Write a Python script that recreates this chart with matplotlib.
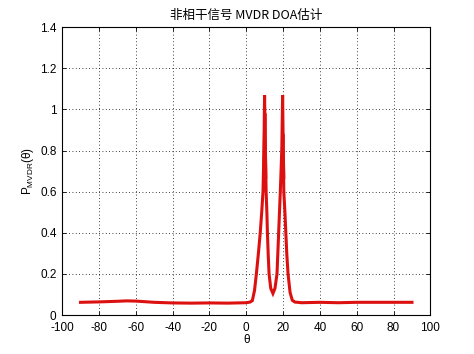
import numpy as np
import matplotlib
matplotlib.use("Agg")
import matplotlib.pyplot as plt

plt.rcParams['font.family'] = ['Liberation Sans', 'Noto Sans CJK SC', 'DejaVu Sans']
plt.rcParams['axes.unicode_minus'] = False
plt.rcParams['mathtext.fontset'] = 'custom'
plt.rcParams['mathtext.rm'] = 'Liberation Sans'
plt.rcParams['mathtext.it'] = 'Liberation Sans'

# main spectrum trace (theta in degrees, normalized MVDR spectrum)
theta = [-90, -80, -70, -65, -60, -50, -40, -30, -20, -10, 0, 2, 3.3, 4.5,
         5.5, 6.6, 7.6, 8.4, 9.1, 9.6, 9.95, 10.4, 10.8, 11.2, 11.5, 11.9,
         12.4, 13.3, 14.5, 15.6, 16.7, 17.6, 18.5, 19.3, 19.75, 20.1, 20.4,
         21.0, 21.5, 22.0, 22.7, 23.8, 25.0, 26.5, 28, 30, 40, 50, 60, 70, 80, 90]
p_mvdr = [0.062, 0.064, 0.067, 0.069, 0.068, 0.062, 0.059, 0.058, 0.059,
          0.058, 0.060, 0.063, 0.070, 0.120, 0.20, 0.30, 0.40, 0.50, 0.60,
          0.80, 1.07, 0.80, 0.60, 0.50, 0.40, 0.30, 0.20, 0.13, 0.105, 0.13,
          0.20, 0.40, 0.60, 0.80, 1.07, 0.80, 0.60, 0.50, 0.40, 0.30, 0.20,
          0.11, 0.072, 0.063, 0.062, 0.060, 0.062, 0.060, 0.062, 0.062,
          0.062, 0.062]

# secondary overlapping trace near the peaks
theta_pk1 = [9.5, 10.1, 10.6]
p_pk1 = [0.67, 0.98, 0.67]
theta_pk2 = [19.2, 19.9, 20.4]
p_pk2 = [0.67, 0.88, 0.67]

xticks = [-100, -80, -60, -40, -20, 0, 20, 40, 60, 80, 100]
yticks = [0, 0.2, 0.4, 0.6, 0.8, 1, 1.2, 1.4]
yticklabels = ['0', '0.2', '0.4', '0.6', '0.8', '1', '1.2', '1.4']

fig = plt.figure(figsize=(4.74, 3.54), dpi=100)
ax = fig.add_axes([0.131, 0.110, 0.777, 0.813])

red = '#dd1010'
ax.plot(theta, p_mvdr, color=red, lw=2.2, solid_joinstyle='miter')
ax.plot(theta_pk1, p_pk1, color=red, lw=2.2)
ax.plot(theta_pk2, p_pk2, color=red, lw=2.2)

ax.set_xlim(-100, 100)
ax.set_ylim(0, 1.4)
ax.set_xticks(xticks)
ax.set_yticks(yticks)
ax.set_yticklabels(yticklabels)
ax.tick_params(direction='in', top=True, right=True, labelsize=8.5, length=3,
               width=0.6)
ax.tick_params(axis='x', pad=5)
ax.tick_params(axis='y', pad=4)
ax.grid(True, linestyle=(0, (1, 3)), color='black', linewidth=0.6)
for s in ax.spines.values():
    s.set_linewidth(0.8)

ax.set_title('非相干信号 MVDR DOA估计', fontsize=9,
             family=['Noto Sans CJK SC', 'DejaVu Sans'], pad=6)
ax.set_xlabel('θ', fontsize=8.5, labelpad=0)
ax.set_ylabel(r'P$_{\rm MVDR}$(θ)', fontsize=8.5, labelpad=3)

fig.savefig('out.png', dpi=100)
